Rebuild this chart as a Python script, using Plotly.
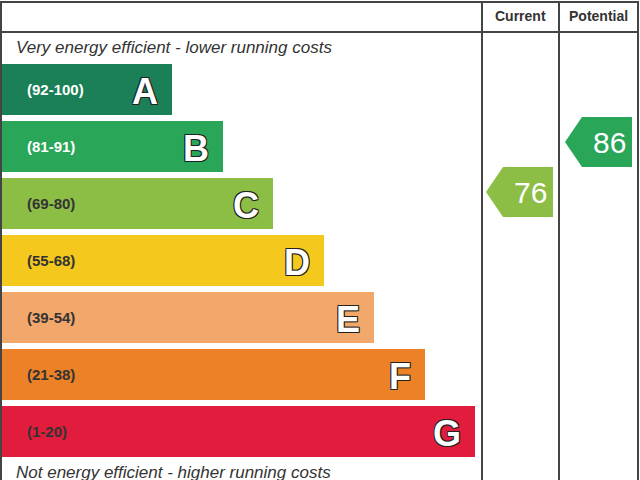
import plotly.graph_objects as go

bands = ["A", "B", "C", "D", "E", "F", "G"]
ranges = ["(92-100)", "(81-91)", "(69-80)", "(55-68)", "(39-54)", "(21-38)", "(1-20)"]
bar_length = [170, 221, 271, 322, 372, 423, 473]
colors = ["#1b7f57", "#2aa659", "#8cbd45", "#f4c81c", "#f2a76b", "#ec8127", "#e21c3c"]
range_text_colors = ["white", "white", "#333333", "#333333", "#333333", "#333333", "#333333"]
current_value = 76
current_band = "C"
potential_value = 86
potential_band = "B"

top0, step, h = 89, 57, 51
centers = [top0 + i * step for i in range(len(bands))]

fig = go.Figure()
fig.add_trace(go.Bar(orientation="h", x=bar_length, y=centers, base=2, width=h,
                     marker=dict(color=colors, line_width=0), hoverinfo="skip"))

F = "Liberation Sans"
ann = []
for i, b in enumerate(bands):
    ann.append(dict(x=25, y=centers[i], text="<b>" + ranges[i] + "</b>", showarrow=False,
                    xanchor="left", font=dict(family=F, size=15, color=range_text_colors[i])))
    ann.append(dict(x=2 + bar_length[i] - 12, y=centers[i] + 2, text="<b>" + b + "</b>", showarrow=False,
                    xanchor="right", font=dict(family=F, size=36, color="white",
                                               shadow="1px 1px 0 #222, -1px -1px 0 #222, 1px -1px 0 #222, -1px 1px 0 #222")))
ann += [
    dict(x=14, y=47, text="<i>Very energy efficient - lower running costs</i>", showarrow=False,
         xanchor="left", font=dict(family=F, size=17, color="#333")),
    dict(x=14, y=472, text="<i>Not energy efficient - higher running costs</i>", showarrow=False,
         xanchor="left", font=dict(family=F, size=17, color="#333")),
    dict(x=520, y=16, text="<b>Current</b>", showarrow=False, font=dict(family=F, size=14, color="#333")),
    dict(x=598, y=16, text="<b>Potential</b>", showarrow=False, font=dict(family=F, size=14, color="#333")),
]

shapes = [
    dict(type="rect", x0=1, x1=638, y0=2, y1=490, line=dict(color="#444", width=2)),
    dict(type="line", x0=1, x1=638, y0=32, y1=32, line=dict(color="#444", width=2)),
    dict(type="line", x0=482, x1=482, y0=2, y1=490, line=dict(color="#444", width=2)),
    dict(type="line", x0=559, x1=559, y0=2, y1=490, line=dict(color="#444", width=2)),
]

def arrow(x0, x1, band, value):
    i = bands.index(band)
    lo, hi = [int(v) for v in ranges[i].strip("()").split("-")]
    frac = (hi - value) / (hi - lo)
    yc = centers[i] - h / 2 + frac * h - 4
    yt, yb = yc - 25, yc + 25
    tip = x0 + 17
    shapes.append(dict(type="path", path=f"M {x0} {yc} L {tip} {yt} L {x1} {yt} L {x1} {yb} L {tip} {yb} Z",
                       fillcolor=colors[i], line_width=0))
    ann.append(dict(x=(tip + x1) / 2 + 2, y=yc, text=str(value), showarrow=False,
                    font=dict(family=F, size=30, color="white")))

arrow(486, 553, current_band, current_value)
arrow(565, 632, potential_band, potential_value)

fig.update_layout(width=640, height=480, margin=dict(l=0, r=0, t=0, b=0),
                  plot_bgcolor="white", paper_bgcolor="white", showlegend=False,
                  xaxis=dict(range=[0, 640], visible=False, fixedrange=True),
                  yaxis=dict(range=[480, 0], visible=False, fixedrange=True),
                  annotations=ann, shapes=shapes, bargap=0)
fig.write_html("out.html", config={"displayModeBar": False})

with open("out.html", encoding="utf-8") as f:
    html = f.read()
html = html.replace("<body>", '<body style="margin:0;overflow:hidden">', 1)
with open("out.html", "w", encoding="utf-8") as f:
    f.write(html)
